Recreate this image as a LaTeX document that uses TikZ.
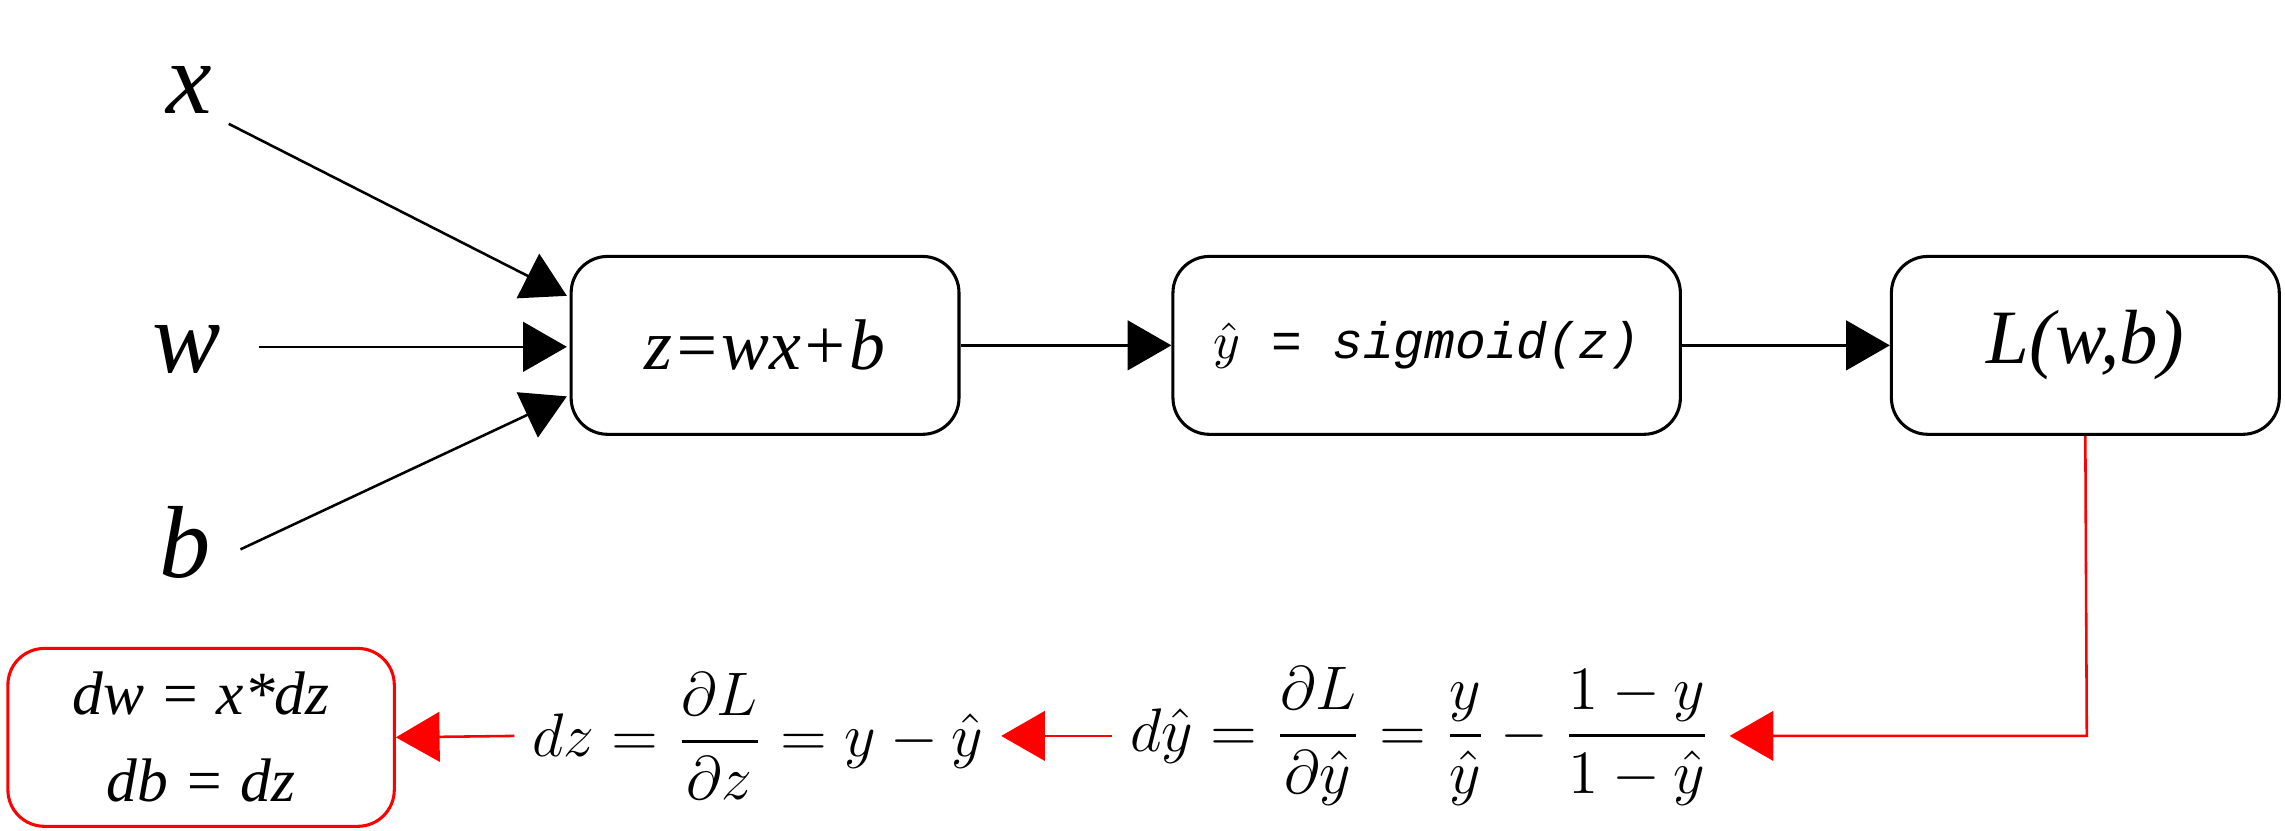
\documentclass[tikz,border=0pt]{standalone}
\usepackage{amsmath}
\usepackage{fontspec}
\setmainfont{Liberation Serif}
\newfontfamily\monoit{Liberation Mono}
\usetikzlibrary{arrows.meta}
\tikzset{
  box/.style={draw,rounded corners=0.25cm,minimum width=2.66cm,minimum height=1.22cm,line width=0.6pt},
  big/.style={font=\fontsize{20}{24}\selectfont\itshape},
  fw/.style={-{Triangle[length=0.3cm,width=0.34cm]},line width=0.5pt},
  bw/.style={-{Triangle[length=0.3cm,width=0.34cm]},red,line width=0.5pt},
}
\begin{document}
\begin{tikzpicture}[x=0.01cm,y=-0.01cm]
\useasboundingbox (0,0) rectangle (1568,570);
\node[big] (x) at (130,62) {x};
\node[big] (w) at (128,240) {w};
\node[big] (b) at (127,372) {b};
\node[box] (z) at (525,237) {\fontsize{14}{16}\selectfont\itshape z=wx+b};
\node[box,minimum width=3.48cm] (s) at (979,237) {\fontsize{10}{12}\selectfont\monoit\itshape $\hat{y}$ = sigmoid(z)};
\node[box] (L) at (1431,237) {\fontsize{15}{18}\selectfont\itshape L(w,b)};
\coordinate (xs) at (157,85); \coordinate (xe) at (389,203);
\coordinate (ws) at (178,238); \coordinate (we) at (389,238);
\coordinate (bs) at (165,377); \coordinate (be) at (389,272);
\draw[fw] (xs) -- (xe);
\draw[fw] (ws) -- (we);
\draw[fw] (bs) -- (be);
\draw[fw] (z) -- (s);
\draw[fw] (s) -- (L);
\node[font=\fontsize{12.5}{16}\selectfont] (dy) at (975,505) {$d\hat{y}=\dfrac{\partial L}{\partial \hat{y}}=\dfrac{y}{\hat{y}}-\dfrac{1-y}{1-\hat{y}}$};
\node[font=\fontsize{12.5}{16}\selectfont] (dz) at (520,505) {$dz=\dfrac{\partial L}{\partial z}=y-\hat{y}$};
\node[box,draw=red,minimum width=2.65cm,minimum height=1.22cm,inner sep=0pt,align=center,font=\fontsize{12}{17}\selectfont\itshape] (dw) at (138,506) {dw = x*dz\\ db = dz};
\coordinate (c1) at (1432,505);
\draw[bw] (L.south) -- (c1) -- (dy.east);
\draw[bw] (dy.west) -- (dz.east);
\draw[bw] (dz.west) -- (dw.east);
\end{tikzpicture}
\end{document}
